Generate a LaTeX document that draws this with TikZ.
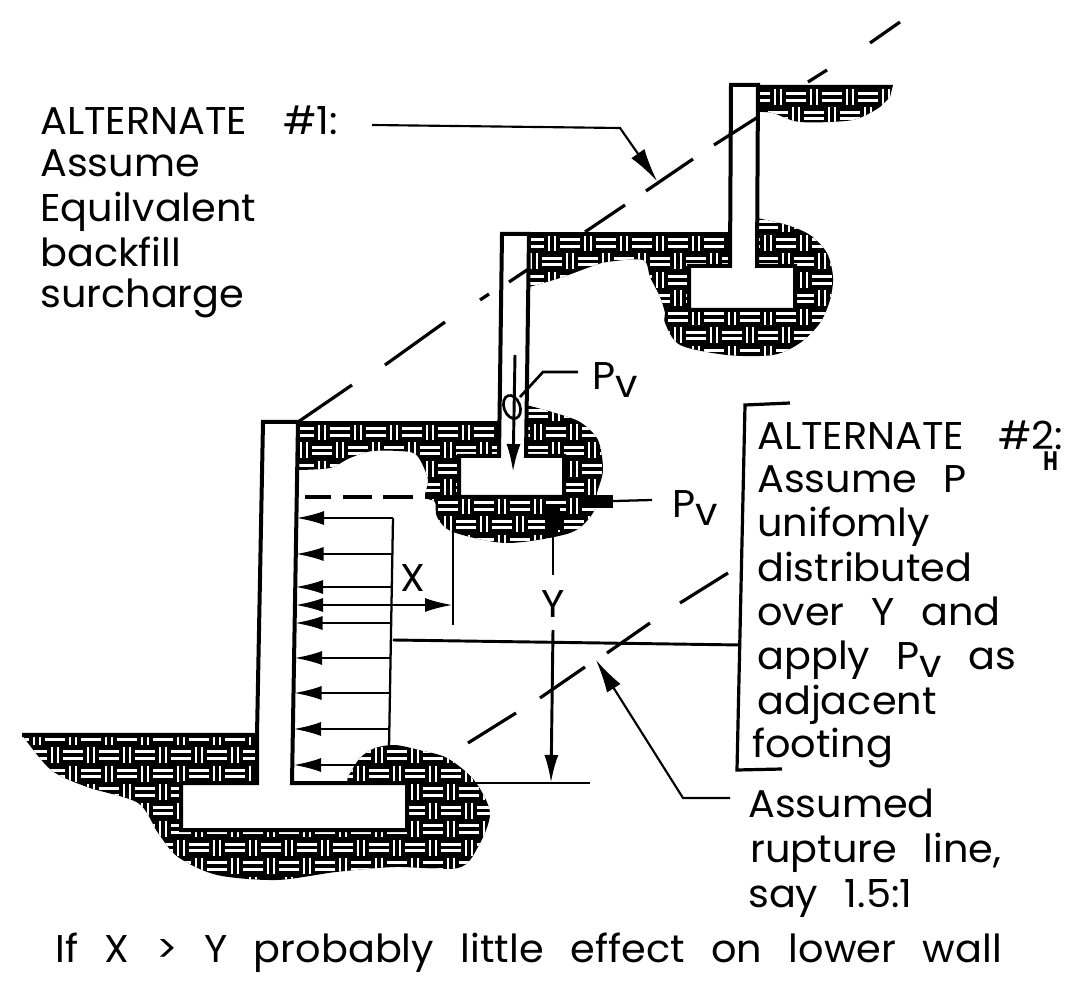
\documentclass[tikz,border=0pt]{standalone}
\usepackage{fontspec}
\setmainfont{Poppins}[FakeStretch=1.03,WordSpace=2.5]
\usepackage{graphicx}
\usetikzlibrary{arrows.meta}
\tikzset{
  tile/.style={white,line width=2pt},
  wall/.style={black,line width=3pt},
  thin line/.style={black,line width=1.7pt},
  rupture/.style={black,line width=2.4pt},
  load/.style={black,line width=2.2pt,-{Latex[length=21pt,width=10.5pt]}},
  lead/.style={black,line width=1.6pt,-{Latex[length=25pt,width=12pt]}},
  label/.style={inner sep=0pt,anchor=base west,align=left,font=\fontsize{29pt}{33pt}\selectfont},
}
\newcommand\soil[5]{%
  \fill[black] #5;
  \begin{scope}
    \clip #5;
    \foreach \j in {0,...,#4}{\foreach \i in {0,...,#3}{
      \pgfmathsetmacro\cx{#1+36*\i+18*mod(\j,2)}
      \pgfmathsetmacro\cy{#2+18.5*\j}
      \draw[tile,shift={(\cx,\cy)}] (-10,-3.2)--(10,-3.2) (-10,3.2)--(10,3.2) (15,-8)--(15,8) (21,-8)--(21,8);
    }}
  \end{scope}}
\newcommand\pv{P\raisebox{-6pt}{v}}
\begin{document}
\begin{tikzpicture}[x=0.75pt,y=-0.75pt]
\useasboundingbox (0,0) rectangle (1083,987);
\fill[white] (0,0) rectangle (1083,987);
% soil masses
\soil{760}{97}{4}{1}{(757,85) -- (893,85) -- (890,97) -- plot[smooth] coordinates {(880,107) (853,120) (800,122) (773,113) (757,112)} -- cycle}
\soil{480}{224.5}{11}{7}{(529,235) -- (730,235) -- (730,266) -- (689,266) -- (689,310) -- (795,310) -- (795,266) -- (757,266) -- plot[smooth] coordinates {(757,218) (787,225) (810,235) (827,253) (833,277) (830,300) (820,323) (800,343) (773,355) (727,355) (680,345) (665,323) (665,313) (660,297) (650,277) (643,260) (607,262) (590,267) (560,278) (529,287)} -- cycle}
\soil{286}{413.5}{10}{7}{(298,424) -- (499,424) -- (499,456) -- (459,456) -- (459,497) -- (564,497) -- (564,456) -- (526,456) -- plot[smooth] coordinates {(526,405) (552,412) (580,422) (598,440) (603,470) (597,493) (593,513) (570,533) (507,543) (453,532) (437,517) (435,502) (425,497) (428,480) (420,460) (410,452) (373,451) (350,458) (330,468) (298,470)} -- cycle}
\soil{19}{736.5}{14}{8}{(22,735) -- (257,735) -- (257,783) -- (181,783) -- (181,830) -- (407,830) -- (407,783) -- plot[smooth] coordinates {(348,783) (348,777) (360,758) (375,748) (395,745) (419,750) (447,758) (474,780) (490,813) (478,847) (458,868) (395,867) (336,872) (277,880) (217,875) (178,857) (158,833) (138,803) (87,787) (51,770) (22,735)} -- cycle}
% walls and footings
\draw[wall] (758,85) -- (757,266) -- (795,266) -- (795,310) -- (689,310) -- (689,266) -- (730,266) -- (731,85) -- cycle;
\draw[wall] (529,234) -- (526,456) -- (564,456) -- (564,497) -- (459,497) -- (459,456) -- (499,456) -- (502,234) -- cycle;
\draw[wall] (528,234) -- (730,234) (298,423) -- (499,423);
\draw[wall] (298,422) -- (263,422) -- (257,735) -- (22,735);
\draw[wall] (298,422) -- (292,783) -- (407,783) -- (407,830) -- (181,830) -- (181,783) -- (257,783) -- (257,735);
% rupture line #1
\draw[rupture] (298,422) -- (352,385) (385,365) -- (445,322) (480,300) -- (489,294) (509,282) -- (530,268) (585,232) -- (625,205) (646,191) -- (693,159) (714,145) -- (758,117) (808,82) -- (827,70) (870,43) -- (900,22);
% rupture line #2
\draw[rupture] (468,743) -- (516,713) (540,698) -- (585,667) (607,653) -- (650,623) (680,603) -- (728,573);
% dashed line under middle soil
\draw[rupture] (305,497) -- (331,497) (343,497) -- (372,497) (383,497) -- (413,497) (425,497) -- (436,497);
% load diagram
\coordinate (l1) at (393,518); \coordinate (w1) at (296,518);
\coordinate (l2) at (393,554); \coordinate (w2) at (295.5,554);
\coordinate (l3) at (392,587); \coordinate (w3) at (295,587);
\coordinate (l5) at (391,623); \coordinate (w5) at (294.5,623);
\coordinate (l6) at (391,658); \coordinate (w6) at (294,658);
\coordinate (l7) at (390,693); \coordinate (w7) at (293.5,693);
\coordinate (l8) at (390,729); \coordinate (w8) at (293,729);
\coordinate (l9) at (389,765); \coordinate (w9) at (293,765);
\draw[thin line] (l1) -- (389,748);
\foreach \n in {1,2,3,5,6,7,8,9} \draw[load] (l\n) -- (w\n);
\coordinate (xa) at (295,605); \coordinate (xb) at (453,605);
\draw[load,{Latex[length=21pt,width=10.5pt]}-{Latex[length=21pt,width=10.5pt]}] (xa) -- (xb);
\draw[thin line] (453,530) -- (453,625);
% Y dimension
\coordinate (ya) at (553,630); \coordinate (yb) at (551,783);
\draw[load] (ya) -- (yb);
\draw[thin line] (553,522) -- (553,575);
\fill[black] (545,505) rectangle (560,530);
\draw[thin line] (474,783) -- (590,783);
% box on the right
\coordinate (b0) at (790,403); \coordinate (b1) at (745,405); \coordinate (b2) at (737,770); \coordinate (b3) at (782,769);
\draw[black,line width=2.4pt] (b0) -- (b1) -- (b2) -- (b3);
\draw[black,line width=2.2pt] (393,640) -- (741,645);
% leaders
\coordinate (a1) at (372,125); \coordinate (a2) at (620,128); \coordinate (a3) at (657,181);
\draw[lead] (a1) -- (a2) -- (a3);
\coordinate (r1) at (730,798); \coordinate (r2) at (683,798); \coordinate (r3) at (596,660);
\draw[lead] (r1) -- (r2) -- (r3);
% P_v leaders
\coordinate (p1) at (578,372); \coordinate (p2) at (543,372); \coordinate (p3) at (520,397);
\draw[black,line width=2pt] (p1) -- (p2) -- (p3);
\draw[black,line width=2pt,rotate around={20:(512,407)}] (512,407) ellipse [x radius=8,y radius=12];
\coordinate (q1) at (515,355); \coordinate (q2) at (513,472);
\draw[load] (q1) -- (q2);
\coordinate (s1) at (652,500); \coordinate (s2) at (578,502);
\draw[thin line] (s1) -- (s2);
\fill[black] (585,495) rectangle (613,508);
\fill[black] (585,495) -- (578,502) -- (585,508) -- cycle;
% texts
\node[label] (alt1) at (40,135) {ALTERNATE};
\node[label] (num1) at (283,135) {\#1:};
\node[label] (a1b) at (40,177) {Assume};
\node[label] (a1c) at (40,222) {Equilvalent};
\node[label] (a1d) at (40,267) {backfill};
\node[label] (a1e) at (40,308) {surcharge};
\node[label] (alt2) at (757,450) {ALTERNATE};
\node[label] (num2) at (998,450) {\#2:};
\node[label,font=\fontsize{20pt}{20pt}\bfseries] (hh) at (1043,471) {\scalebox{0.72}[1]{H}};
\node[label] (t2) at (757,493) {Assume P};
\node[label] (t3) at (757,537) {unifomly};
\node[label] (t4) at (757,582) {distributed};
\node[label] (t5) at (757,626) {over Y and};
\node[label] (t6) at (757,670) {apply \pv{} as};
\node[label] (t7) at (757,715) {adjacent};
\node[label] (t8) at (752,758) {footing};
\node[label] (r1t) at (748,817) {Assumed};
\node[label] (r2t) at (750,862) {rupture line,};
\node[label] (r3t) at (748,907) {say 1.5:1};
\node[label] (bot) at (55,962) {If X > Y probably little effect on lower wall};
\node[label] (xl) at (400,592) {X};
\node[label] (yl) at (541,618) {Y};
\node[label] (pv1) at (592,390) {\pv};
\node[label] (pv2) at (672,518) {\pv};
\end{tikzpicture}
\end{document}
